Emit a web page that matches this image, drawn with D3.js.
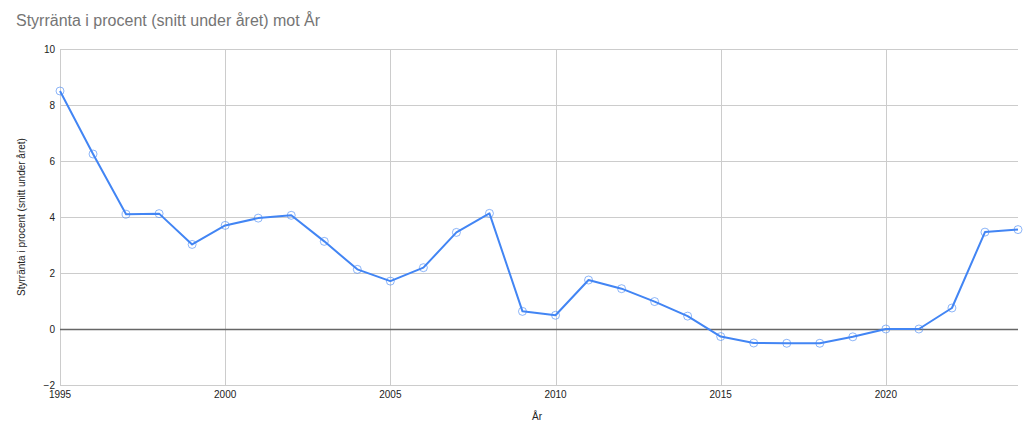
<!DOCTYPE html>
<html>
<head>
<meta charset="utf-8">
<script src="https://cdn.jsdelivr.net/npm/d3@7"></script>
<style>
  body { margin: 0; background: #fff; }
  svg { display: block; font-family: Arial, "Liberation Sans", sans-serif; }
</style>
</head>
<body>
<svg id="chart" width="1024" height="424"></svg>
<script>
//---DATA
var years = [1995, 1996, 1997, 1998, 1999, 2000, 2001, 2002, 2003, 2004,
  2005, 2006, 2007, 2008, 2009, 2010, 2011, 2012, 2013, 2014,
  2015, 2016, 2017, 2018, 2019, 2020, 2021, 2022, 2023, 2024];
var rates = [8.5, 6.25, 4.1, 4.12, 3.02, 3.7, 3.96, 4.06, 3.13, 2.13,
  1.71, 2.19, 3.45, 4.13, 0.63, 0.49, 1.75, 1.44, 0.98, 0.46,
  -0.27, -0.5, -0.51, -0.51, -0.28, 0, 0, 0.75, 3.46, 3.55];
var x_ticks = [1995, 2000, 2005, 2010, 2015, 2020];
var y_ticks = [-2, 0, 2, 4, 6, 8, 10];

(function() {
  'use strict';

  var svg = d3.select('#chart');

  //-----SIZES
  var m = { left: 60, right: 6, top: 49, bottom: 39 };
  var w = 1024, h = 424;

  //----SCALES
  var x = d3.scaleLinear()
    .domain([1995, 2024])
    .range([m.left, w - m.right]);

  var y = d3.scaleLinear()
    .domain([-2, 10])
    .range([h - m.bottom, m.top]);

  //---TITLE
  svg.append('text')
    .attr('x', 16)
    .attr('y', 26)
    .attr('fill', '#757575')
    .attr('font-size', 16)
    .text('Styrränta i procent (snitt under året) mot År');

  //---GRID
  var grid = svg.append('g');

  grid.selectAll('.hgrid')
    .data(y_ticks.filter(function(d) { return d !== 0; }))
    .enter()
    .append('line')
    .attr('x1', m.left)
    .attr('x2', w - m.right)
    .attr('y1', function(d) { return y(d) + 0.5; })
    .attr('y2', function(d) { return y(d) + 0.5; })
    .attr('stroke', '#cccccc')
    .attr('stroke-width', 1);

  grid.selectAll('.vgrid')
    .data(x_ticks)
    .enter()
    .append('line')
    .attr('x1', function(d) { return Math.round(x(d)) + 0.5; })
    .attr('x2', function(d) { return Math.round(x(d)) + 0.5; })
    .attr('y1', m.top)
    .attr('y2', h - m.bottom)
    .attr('stroke', '#cccccc')
    .attr('stroke-width', 1);

  //--zero baseline
  grid.append('line')
    .attr('x1', m.left)
    .attr('x2', w - m.right)
    .attr('y1', y(0) + 0.5)
    .attr('y2', y(0) + 0.5)
    .attr('stroke', '#666666')
    .attr('stroke-width', 1.5);

  //---AXIS LABELS
  svg.selectAll('.ylab')
    .data(y_ticks)
    .enter()
    .append('text')
    .attr('x', m.left - 5)
    .attr('y', function(d) { return y(d) + 4; })
    .attr('text-anchor', 'end')
    .attr('font-size', 10)
    .attr('fill', '#222222')
    .text(function(d) { return d < 0 ? '\u2212' + (-d) : d; });

  svg.selectAll('.xlab')
    .data(x_ticks)
    .enter()
    .append('text')
    .attr('x', function(d) { return x(d); })
    .attr('y', h - m.bottom + 13)
    .attr('text-anchor', 'middle')
    .attr('font-size', 10)
    .attr('fill', '#222222')
    .text(function(d) { return d; });

  svg.append('text')
    .attr('x', 537)
    .attr('y', 420)
    .attr('text-anchor', 'middle')
    .attr('font-size', 10)
    .attr('fill', '#222222')
    .text('År');

  svg.append('text')
    .attr('transform', 'translate(25,' + ((y(10) + y(-2)) / 2) + ') rotate(-90)')
    .attr('text-anchor', 'middle')
    .attr('font-size', 10)
    .attr('fill', '#222222')
    .text('Styrränta i procent (snitt under året)');

  //---LINE
  var data = years.map(function(d, i) { return { year: d, val: rates[i] }; });

  var line = d3.line()
    .x(function(d) { return x(d.year); })
    .y(function(d) { return y(d.val); });

  svg.append('path')
    .datum(data)
    .attr('d', line)
    .attr('fill', 'none')
    .attr('stroke', '#4285f4')
    .attr('stroke-width', 2)
    .attr('stroke-linejoin', 'round');

  //---POINTS
  svg.selectAll('.pt')
    .data(data)
    .enter()
    .append('circle')
    .attr('cx', function(d) { return x(d.year); })
    .attr('cy', function(d) { return y(d.val); })
    .attr('r', 4)
    .attr('fill', 'none')
    .attr('stroke', '#4285f4')
    .attr('stroke-opacity', 0.6)
    .attr('stroke-width', 1);

})();
</script>
</body>
</html>
